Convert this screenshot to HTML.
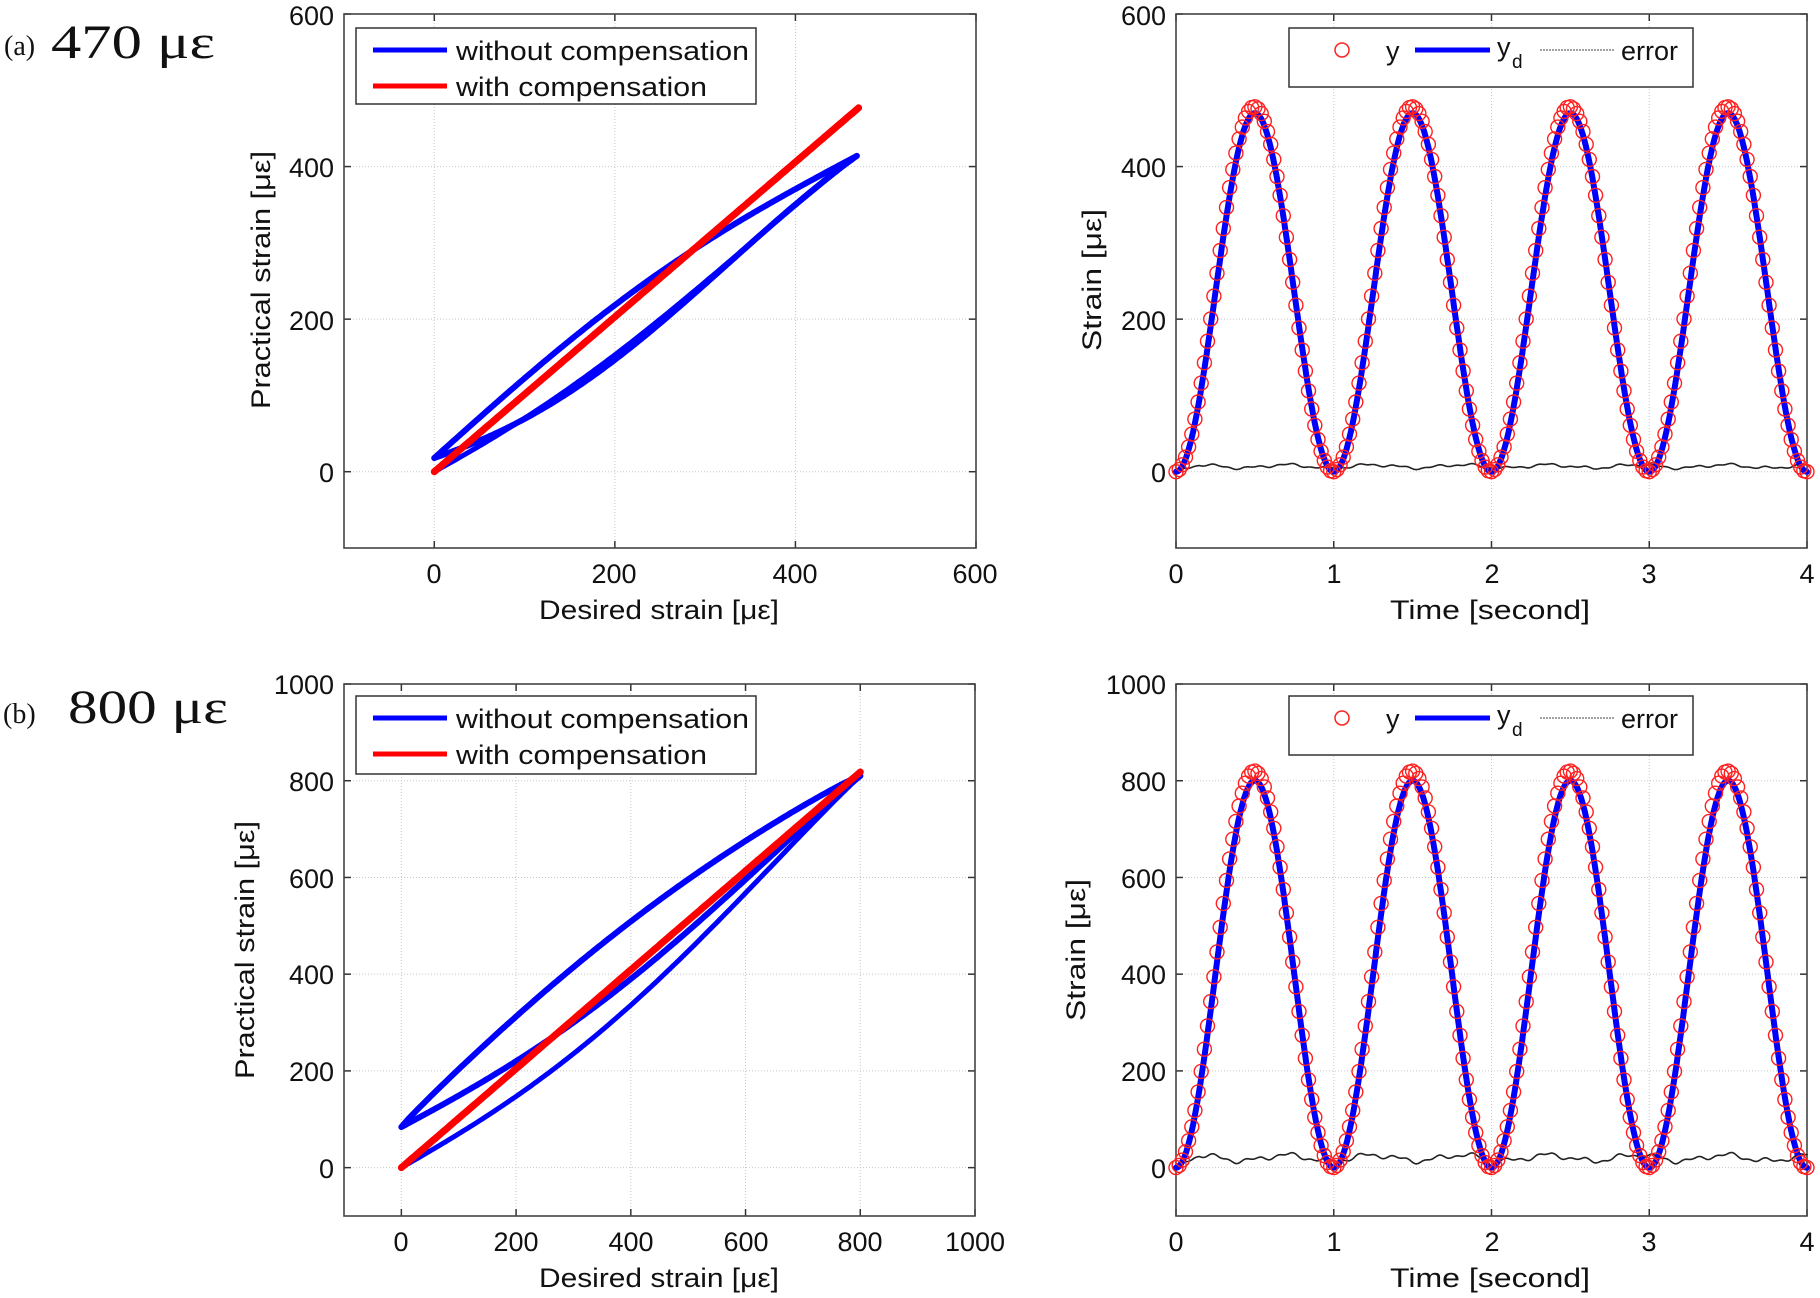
<!DOCTYPE html>
<html><head><meta charset="utf-8">
<style>
html,body{margin:0;padding:0;background:#fff;}
svg{display:block;}
text{font-family:"Liberation Sans",Arial,sans-serif;fill:#111;}
.s{font-family:"Liberation Serif","Times New Roman",serif;}
</style></head>
<body>
<svg id="sv" width="1820" height="1298" viewBox="0 0 1820 1298" xmlns="http://www.w3.org/2000/svg">
<rect width="1820" height="1298" fill="#fff"/>
<g id="plots"></g>

<text class="s" x="4" y="55" font-size="28">(a)</text>
<text class="s" x="51" y="58" font-size="48" textLength="164" lengthAdjust="spacingAndGlyphs">470 με</text>
<text class="s" x="3" y="723" font-size="28">(b)</text>
<text class="s" x="68" y="723" font-size="48" textLength="160" lengthAdjust="spacingAndGlyphs">800 με</text>

<g font-size="27" text-anchor="end">
<text x="334" y="482">0</text><text x="334" y="330">200</text><text x="334" y="177">400</text><text x="334" y="25">600</text>
<text x="1166" y="482">0</text><text x="1166" y="330">200</text><text x="1166" y="177">400</text><text x="1166" y="25">600</text>
<text x="334" y="1178">0</text><text x="334" y="1081">200</text><text x="334" y="984">400</text><text x="334" y="888">600</text><text x="334" y="791">800</text><text x="334" y="694">1000</text>
<text x="1166" y="1178">0</text><text x="1166" y="1081">200</text><text x="1166" y="984">400</text><text x="1166" y="888">600</text><text x="1166" y="791">800</text><text x="1166" y="694">1000</text>
</g>
<g font-size="27" text-anchor="middle">
<text x="434" y="583">0</text><text x="614" y="583">200</text><text x="795" y="583">400</text><text x="975" y="583">600</text>
<text x="1176" y="583">0</text><text x="1334" y="583">1</text><text x="1492" y="583">2</text><text x="1649" y="583">3</text><text x="1807" y="583">4</text>
<text x="401" y="1251">0</text><text x="516" y="1251">200</text><text x="631" y="1251">400</text><text x="746" y="1251">600</text><text x="860" y="1251">800</text><text x="975" y="1251">1000</text>
<text x="1176" y="1251">0</text><text x="1334" y="1251">1</text><text x="1492" y="1251">2</text><text x="1649" y="1251">3</text><text x="1807" y="1251">4</text>
</g>
<g font-size="27" text-anchor="middle">
<text x="659" y="619" textLength="240" lengthAdjust="spacingAndGlyphs">Desired strain [με]</text>
<text x="1490" y="619" textLength="200" lengthAdjust="spacingAndGlyphs">Time [second]</text>
<text x="659" y="1287" textLength="240" lengthAdjust="spacingAndGlyphs">Desired strain [με]</text>
<text x="1490" y="1287" textLength="200" lengthAdjust="spacingAndGlyphs">Time [second]</text>
<text transform="translate(270,280) rotate(-90)" textLength="258" lengthAdjust="spacingAndGlyphs">Practical strain [με]</text>
<text transform="translate(1101,280) rotate(-90)" textLength="142" lengthAdjust="spacingAndGlyphs">Strain [με]</text>
<text transform="translate(254,950) rotate(-90)" textLength="258" lengthAdjust="spacingAndGlyphs">Practical strain [με]</text>
<text transform="translate(1085,950) rotate(-90)" textLength="142" lengthAdjust="spacingAndGlyphs">Strain [με]</text>
</g>

<g>
<rect x="356" y="28" width="400" height="76" fill="#fff" stroke="#333" stroke-width="1.5"/>
<line x1="373" y1="50" x2="447" y2="50" stroke="#0000ff" stroke-width="5"/>
<line x1="373" y1="86" x2="447" y2="86" stroke="#ff0000" stroke-width="5"/>
<text x="456" y="60" font-size="27" textLength="293" lengthAdjust="spacingAndGlyphs">without compensation</text>
<text x="456" y="96" font-size="27" textLength="251" lengthAdjust="spacingAndGlyphs">with compensation</text>
<rect x="356" y="696" width="400" height="78" fill="#fff" stroke="#333" stroke-width="1.5"/>
<line x1="373" y1="718" x2="447" y2="718" stroke="#0000ff" stroke-width="5"/>
<line x1="373" y1="754" x2="447" y2="754" stroke="#ff0000" stroke-width="5"/>
<text x="456" y="728" font-size="27" textLength="293" lengthAdjust="spacingAndGlyphs">without compensation</text>
<text x="456" y="764" font-size="27" textLength="251" lengthAdjust="spacingAndGlyphs">with compensation</text>
</g>
<g id="lr">
<rect x="1289" y="28" width="404" height="59" fill="#fff" stroke="#333" stroke-width="1.5"/>
<circle cx="1342" cy="50" r="7" fill="none" stroke="#ff2020" stroke-width="1.5"/>
<text x="1386" y="60" font-size="27">y</text>
<line x1="1415" y1="50" x2="1490" y2="50" stroke="#0000ff" stroke-width="5"/>
<text x="1497" y="56" font-size="27">y</text><text x="1512" y="68" font-size="19">d</text>
<line x1="1540" y1="50" x2="1614" y2="50" stroke="#444" stroke-width="1" stroke-dasharray="2,1"/>
<text x="1621" y="60" font-size="27">error</text>

<rect x="1289" y="696" width="404" height="59" fill="#fff" stroke="#333" stroke-width="1.5"/>
<circle cx="1342" cy="718" r="7" fill="none" stroke="#ff2020" stroke-width="1.5"/>
<text x="1386" y="728" font-size="27">y</text>
<line x1="1415" y1="718" x2="1490" y2="718" stroke="#0000ff" stroke-width="5"/>
<text x="1497" y="724" font-size="27">y</text><text x="1512" y="736" font-size="19">d</text>
<line x1="1540" y1="718" x2="1614" y2="718" stroke="#444" stroke-width="1" stroke-dasharray="2,1"/>
<text x="1621" y="728" font-size="27">error</text>
</g>
</svg>
<script>
(function(){
var NS="http://www.w3.org/2000/svg";
var P=document.getElementById("plots");
function el(n,a,par){var e=document.createElementNS(NS,n);for(var k in a)e.setAttribute(k,a[k]);(par||P).appendChild(e);return e;}
function axes(L,R,T,B,x0,x1,y0,y1,xt,yt){
  var X=function(v){return L+(v-x0)/(x1-x0)*(R-L);};
  var Y=function(v){return B-(v-y0)/(y1-y0)*(B-T);};
  var g=el("g",{});
  xt.forEach(function(v){var x=X(v);
    el("line",{x1:x,y1:T,x2:x,y2:B,stroke:"#c8c8c8","stroke-width":1,"stroke-dasharray":"1,2"},g);
    el("line",{x1:x,y1:B,x2:x,y2:B-7,stroke:"#333","stroke-width":1.5},g);
    el("line",{x1:x,y1:T,x2:x,y2:T+7,stroke:"#333","stroke-width":1.5},g);});
  yt.forEach(function(v){var y=Y(v);
    el("line",{x1:L,y1:y,x2:R,y2:y,stroke:"#c8c8c8","stroke-width":1,"stroke-dasharray":"1,2"},g);
    el("line",{x1:L,y1:y,x2:L+7,y2:y,stroke:"#333","stroke-width":1.5},g);
    el("line",{x1:R,y1:y,x2:R-7,y2:y,stroke:"#333","stroke-width":1.5},g);});
  el("rect",{x:L,y:T,width:R-L,height:B-T,fill:"none",stroke:"#444","stroke-width":1.6},g);
  return {X:X,Y:Y};
}
function fpath(A,xmax,f){
  var d="";for(var i=0;i<=200;i++){var u=i/200;d+=(i?"L":"M")+A.X(u*xmax).toFixed(1)+","+A.Y(f(u)).toFixed(1);}
  return d;
}
function path(d,c,w){el("path",{d:d,fill:"none",stroke:c,"stroke-width":w,"stroke-linejoin":"round","stroke-linecap":"round"});}
var S=Math.sin,PI=Math.PI,pw=Math.pow;

// TL
var A=axes(344,976,14,548,-100,600,-100,600,[0,200,400,600],[0,200,400,600]);
path(fpath(A,468,function(u){return 414*u-34*S(PI*u)*pw(1-u,0.6);}),"#0000ff",5);
path(fpath(A,468,function(u){return 18+396*u-65*S(PI*u)*pw(1-u,0.8);}),"#0000ff",6);
path(fpath(A,468,function(u){return 18+396*u+32*S(PI*u);}),"#0000ff",6);
path(fpath(A,470,function(u){return 477*u;}),"#ff0000",7);

// BL
var B=axes(344,975,684,1216,-100,1000,-100,1000,[0,200,400,600,800,1000],[0,200,400,600,800,1000]);
path(fpath(B,800,function(u){return 810*u-85*S(PI*u)*pw(1-u,0.3);}),"#0000ff",5);
path(fpath(B,800,function(u){return 84+726*u-70*S(PI*u)*pw(1-u,0.3);}),"#0000ff",6);
path(fpath(B,800,function(u){return 84+726*u+62*pw(S(PI*u),0.8);}),"#0000ff",6);
path(fpath(B,800,function(u){return 818*u;}),"#ff0000",7);

function tplot(T,Bt,ymax,amp,ov,eb){
  var yt=[];for(var v=0;v<=ymax;v+=200)yt.push(v);
  var C=axes(1176,1807,T,Bt,0,4,-100,ymax,[0,1,2,3,4],yt);
  var d="";for(var i=0;i<=800;i++){var t=i/200;
    var e=(t<0.15?eb*t/0.15:eb)+eb*0.3*Math.sin(t*11.3)+eb*0.2*Math.sin(t*27+1)+eb*0.12*Math.sin(t*61);
    d+=(i?"L":"M")+C.X(t).toFixed(1)+","+C.Y(e).toFixed(1);}
  path(d,"#222",1.6);
  d="";for(i=0;i<=800;i++){t=i/200;var y=amp*(1-Math.cos(2*Math.PI*t))/2;d+=(i?"L":"M")+C.X(t).toFixed(1)+","+C.Y(y).toFixed(1);}
  path(d,"#0000ff",6);
  for(i=0;i<=200;i++){t=i*0.02;var yd=amp*(1-Math.cos(2*Math.PI*(t+0.004)))/2;var yy=yd*ov;
    el("circle",{cx:C.X(t).toFixed(1),cy:C.Y(yy).toFixed(1),r:7,fill:"none",stroke:"#ff2020","stroke-width":1.4});}
}
tplot(14,548,600,470,1.018,7);
tplot(684,1216,1000,800,1.025,20);
document.getElementById("sv").appendChild(document.getElementById("lr"));
})();
</script>
</body></html>
